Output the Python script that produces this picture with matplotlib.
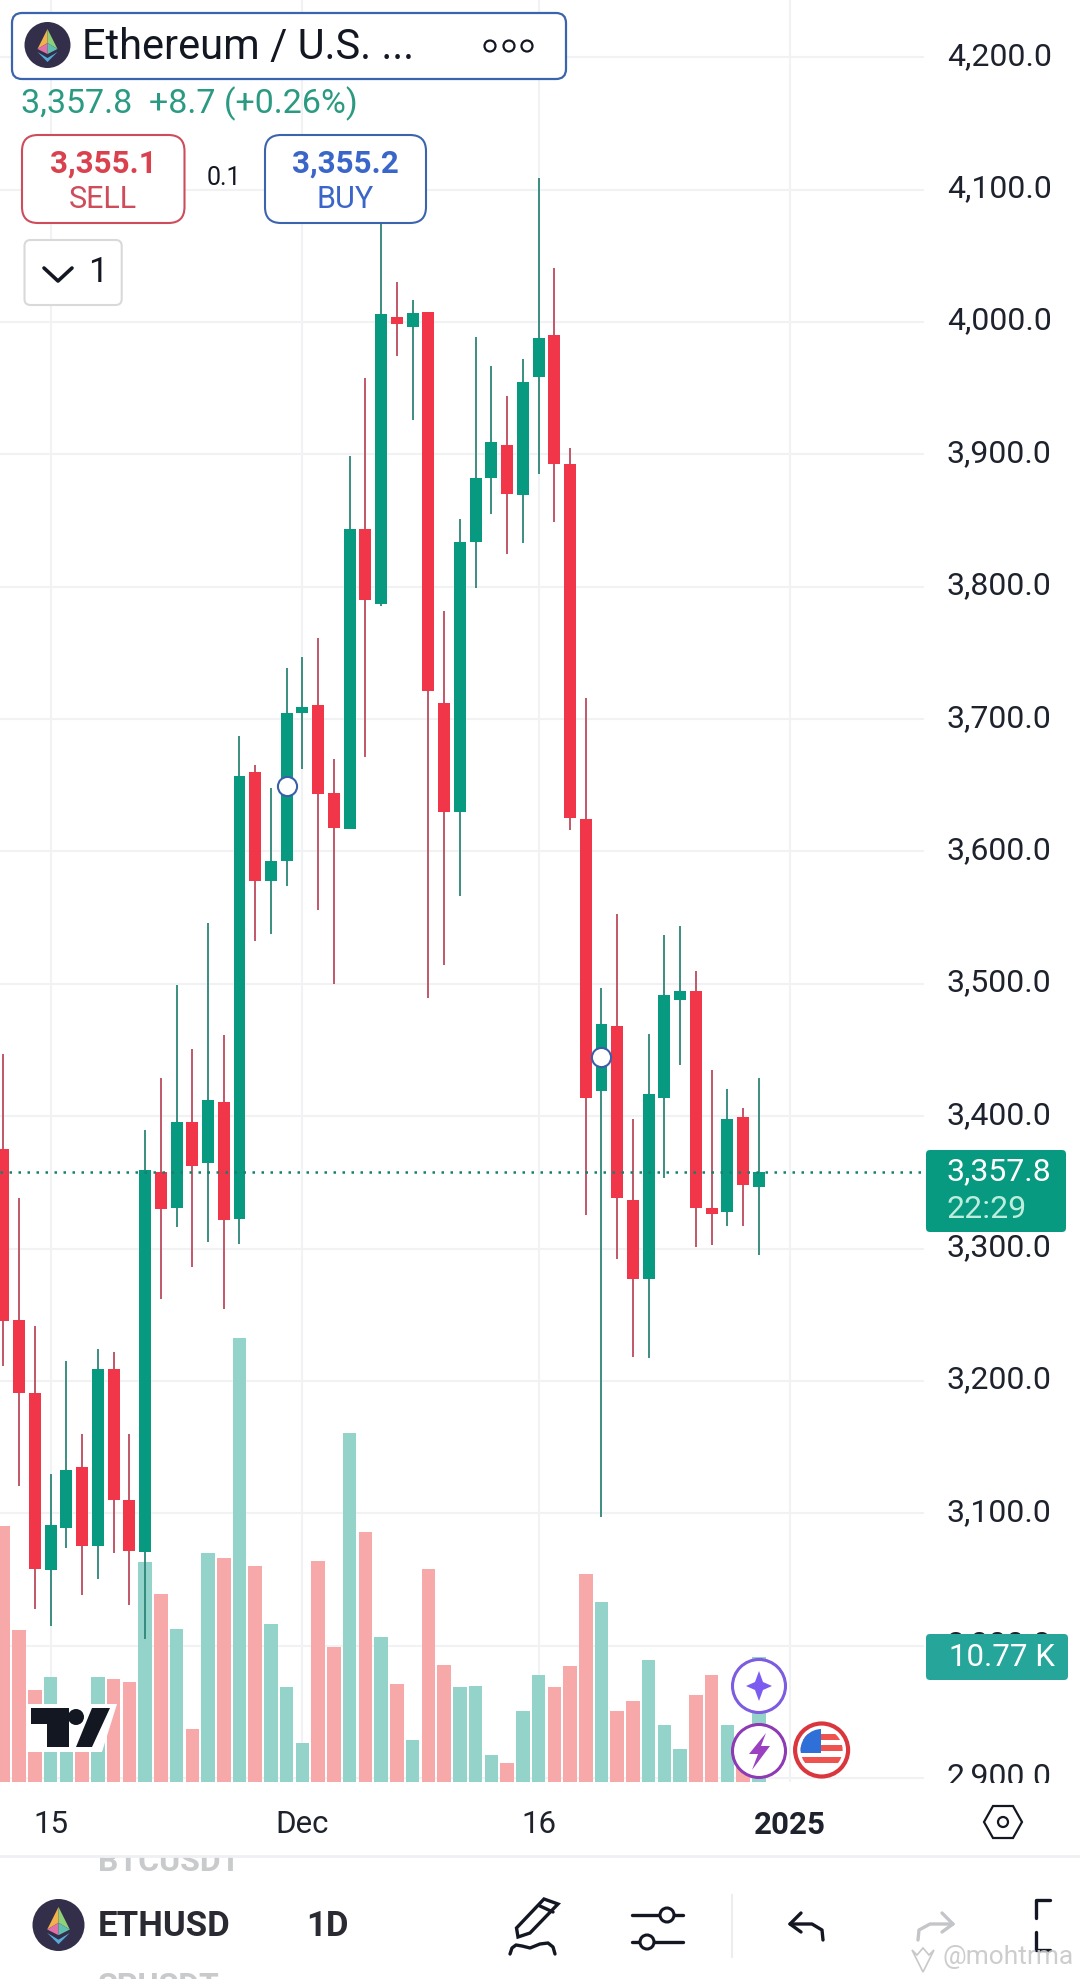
import matplotlib
matplotlib.use("Agg")
import matplotlib.pyplot as plt
from matplotlib.patches import FancyBboxPatch, Circle, Polygon, Rectangle
from matplotlib.transforms import Bbox, ScaledTranslation

plt.rcParams['font.family'] = ['Roboto', 'DejaVu Sans']

# ---------- data ----------
opens = [3375,3246,3190.6,3057,3089,3135,3075,3209,3110,3070.6,3358,3330.5,3396,3365,3411,3322.7,3660,3577.6,3593,3705,
         3711,3644,3617,3843.6,3787,4004,3996.6,4007.4,3712.5,3630,3833.5,3882,3907,3869,3958.4,3990,3893,3624.6,3419,3468,
         3337,3277,3414,3488,3494.5,3330.6,3328,3399.4,3346.8]
closes = [3245.5,3190.6,3058,3091,3133,3075,3209,3110,3071.5,3359.4,3330,3396,3362.6,3412,3321.6,3657,3577.6,3593,3705,3709,
          3643.5,3617.6,3843.6,3790,4006,3998.5,4007,3721,3630,3834,3882,3909,3870,3955,3988,3893,3625,3414,3470,3338,
          3277,3416.6,3491.5,3494.5,3331,3326,3397.7,3348.4,3357.8]
highs = [3447,3338,3241.5,3130,3215,3160,3224,3222,3160,3389.5,3429,3499,3450.8,3546,3461,3687,3665,3648,3739,3747,
         3761,3669.7,3899,3958,4095,4030.5,4017,4007.4,3782,3851,3989,3967,3944,3972,4109,4041,3905,3716,3497,3553,
         3398,3462,3537,3544,3510,3435,3420.6,3406,3428.7]
lows = [3211,3121,3028,3015,3073.5,3038,3050.7,3070,3031,3005,3262,3316,3286,3305,3254,3303.6,3532,3538,3574,3662,
        3556,3500,3617,3671.6,3785.7,3974,3926,3489.6,3514,3566,3799,3855,3825,3833,3885,3849,3616,3325,3097,3292,
        3218,3217,3353.5,3438.5,3301.5,3303,3317,3317,3295]
volumes_k = [22.0,13.1,7.9,9.0,5.9,6.2,9.0,8.9,8.6,18.9,16.2,13.2,4.6,19.7,19.3,38.2,18.6,13.6,8.2,3.4,
             19.0,11.6,30.0,21.5,12.5,8.4,3.6,18.3,10.1,8.2,8.3,2.3,1.6,6.1,9.2,8.2,10.0,17.9,15.5,6.1,
             7.0,10.5,4.9,2.8,7.5,9.2,4.9,4.0,10.77]
x_tick_pos = [3, 19, 34, 50]
x_tick_labels = ['15', 'Dec', '16', '2025']
price_ticks = [2900,3000,3100,3200,3300,3400,3500,3600,3700,3800,3900,4000,4100,4200]
marker_idx = [18, 38]
marker_price = [3649.6, 3445]
last_price = 3357.8

# ---------- layout ----------
W, H = 1080, 1979
PANE_R, PANE_B = 924, 1782
XLIM = (-0.216, 58.49)
YLIM = (2897, 4243.3)
VLIM = (0, 153.4)
UP, DOWN = '#089A80', '#F2364A'
UPW, DOWNW = '#2C8577', '#BC4A5C'
UPV, DOWNV = '#94D3CA', '#F6A9A8'

fig = plt.figure(figsize=(W/100, H/100), dpi=100, facecolor='white')
rect = [0, 1-PANE_B/H, PANE_R/W, PANE_B/H]

bg = fig.add_axes(rect, zorder=0)
bg.set_xlim(*XLIM); bg.set_ylim(*YLIM)
bg.set_xticks(x_tick_pos); bg.set_yticks(price_ticks)
bg.grid(True, color='#F1F2F4', lw=1.5)
bg.tick_params(length=0, labelleft=False, labelbottom=False)
for s in bg.spines.values(): s.set_visible(False)

av = fig.add_axes(rect, zorder=1)
av.patch.set_visible(False)
av.set_xlim(*XLIM); av.set_ylim(*VLIM); av.axis('off')

ax = fig.add_axes(rect, zorder=2)
ax.patch.set_visible(False)
ax.set_xlim(*XLIM); ax.set_ylim(*YLIM)
for s in ax.spines.values(): s.set_visible(False)

xs = list(range(len(opens)))
for i in xs:
    up = closes[i] >= opens[i]
    av.bar(i, volumes_k[i], width=0.86, color=UPV if up else DOWNV, lw=0)
    ax.vlines(i, lows[i], highs[i], color=UPW if up else DOWNW, lw=1.3, zorder=2)
    lo, hi = sorted((opens[i], closes[i]))
    ax.bar(i, hi-lo, bottom=lo, width=0.76, color=UP if up else DOWN, lw=0, zorder=3)

ax.axhline(last_price, color='#14806E', lw=1.8, ls=(0, (1, 2.6)), zorder=4)
ax.scatter(marker_idx, marker_price, s=190, facecolor='white', edgecolor='#3A5FA8', lw=1.5, zorder=5)

ax.set_xticks(x_tick_pos, x_tick_labels)
ax.yaxis.tick_right()
ax.set_yticks(price_ticks, [f'{p:,.1f}' for p in price_ticks])
ax.tick_params(axis='x', length=0, pad=20, labelsize=22.5, labelcolor='#1E222D')
ax.tick_params(axis='y', length=0, pad=16.5, labelsize=23, labelcolor='#1E222D')
ax.get_xticklabels()[3].set_fontweight('bold')
clip = Bbox([[0, H-1783], [W, H]])
lift = ScaledTranslation(0, 0.04, fig.dpi_scale_trans)
for lb in ax.get_yticklabels():
    lb.set_transform(lb.get_transform() + lift)
    lb.set_clip_on(True)
    lb.set_clip_box(clip)

# ---------- interface layer, in picture pixels ----------
ui = fig.add_axes([0, 0, 1, 1], zorder=3)
ui.set_xlim(0, W); ui.set_ylim(H, 0); ui.axis('off'); ui.patch.set_visible(False)

def box(x0, y0, x1, y1, r=8, fc='white', ec='none', lw=1.5, z=5):
    ui.add_patch(FancyBboxPatch((x0+r, y0+r), x1-x0-2*r, y1-y0-2*r, boxstyle=f'round,pad={r}',
                                fc=fc, ec=ec, lw=lw, zorder=z))

def txt(x, y, s, size, color='#131722', ha='left', weight='normal', z=6, **kw):
    return ui.text(x, y, s, fontsize=size, color=color, ha=ha, va='center', fontweight=weight, zorder=z, **kw)

def eth(cx, cy, r, z=6):
    ui.add_patch(Circle((cx, cy), r, fc='#332F4A', ec='none', zorder=z))
    k = r/23
    P = lambda pts: [(cx+a*k, cy+b*k) for a, b in pts]
    ui.add_patch(Polygon(P([(0,-16),(-10,4),(0,-2)]), fc='#F2B24B', ec='none', zorder=z+1))
    ui.add_patch(Polygon(P([(0,-16),(10,4),(0,-2)]), fc='#8FD07A', ec='none', zorder=z+1))
    ui.add_patch(Polygon(P([(0,-2),(-10,4),(0,9)]), fc='#E070A8', ec='none', zorder=z+1))
    ui.add_patch(Polygon(P([(0,-2),(10,4),(0,9)]), fc='#60C0B0', ec='none', zorder=z+1))
    ui.add_patch(Polygon(P([(-10,7),(0,13),(10,7),(0,17)]), fc='#55A8D8', ec='none', zorder=z+1))

# header
box(12, 13, 566, 79, r=10, ec='#3B64AE', lw=1.6)
eth(47.5, 45, 23)
txt(82, 47, 'Ethereum / U.S. ...', 30)
for dx in (490, 509, 527):
    ui.add_patch(Circle((dx, 46), 5.5, fc='white', ec='#131722', lw=1.6, zorder=6))
txt(21, 104, '3,357.8  +8.7 (+0.26%)', 24.5, color='#2A9A82')

box(22, 135, 184.5, 223, r=16, ec='#CE4C5C', lw=1.5)
txt(103, 164, '3,355.1', 22.6, color='#D9414F', ha='center', weight='bold')
txt(103, 200, 'SELL', 22, color='#CE4C5C', ha='center')
txt(223.5, 178, '0.1', 18, ha='center')
box(265, 135, 426, 223, r=16, ec='#3B64AE', lw=1.5)
txt(345.5, 164, '3,355.2', 22.6, color='#3A66C9', ha='center', weight='bold')
txt(345.5, 200, 'BUY', 22, color='#3A66C9', ha='center')

box(24.5, 240, 121.7, 305, r=6, ec='#D9D9D9', lw=1.5)
ui.plot([44, 58, 72], [268, 281, 268], color='#131722', lw=2.6, zorder=6, solid_capstyle='round')
txt(98, 272, '1', 25, ha='center')

# last price and volume badges
box(926, 1150, 1066, 1232, r=4, fc='#089A80')
txt(947, 1172, '3,357.8', 23, color='white')
txt(947, 1210, '22:29', 23, color='#BDEEDD')
box(926, 1634, 1068, 1680, r=4, fc='#26A69A')
txt(949, 1657, '10.77 K', 22.5, color='white')

# TradingView mark
ui.add_patch(Polygon([(26, 1704), (117, 1704), (102, 1752), (26, 1752)], fc='white', ec='none', zorder=5))
ui.add_patch(Polygon([(31, 1708), (69, 1708), (69, 1747), (47, 1747), (47, 1724), (31, 1724)], fc='#131722', ec='none', zorder=6))
ui.add_patch(Circle((76, 1717), 8, fc='#131722', ec='none', zorder=6))
ui.add_patch(Polygon([(92, 1708), (110, 1708), (92, 1747), (76, 1747)], fc='#131722', ec='none', zorder=6))

# round badges
ui.add_patch(Circle((759, 1686), 26.5, fc='white', ec='#7C5CE0', lw=2.2, zorder=6))
ui.add_patch(Polygon([(759, 1671), (763, 1682), (772, 1686), (763, 1690), (759, 1701), (755, 1690), (746, 1686), (755, 1682)],
                     fc='#7C5CF0', ec='none', zorder=7))
ui.add_patch(Circle((759, 1751), 26.5, fc='white', ec='#8E3AB5', lw=2.2, zorder=6))
ui.add_patch(Polygon([(766, 1733), (749, 1754), (758, 1754), (752, 1770), (770, 1746), (761, 1746)], fc='#9A40C0', ec='none', zorder=7))
ui.add_patch(Circle((821.6, 1750), 26.5, fc='white', ec='#D9363E', lw=3, zorder=6))
fc = Circle((821.6, 1750), 21, fc='white', ec='none', zorder=7)
ui.add_patch(fc)
for y0 in (1734, 1745, 1757):
    st = Rectangle((800, y0), 44, 6, fc='#EF5350', ec='none', zorder=8)
    ui.add_patch(st); st.set_clip_path(fc)
cant = Rectangle((800, 1729), 21, 24, fc='#2F6FD8', ec='none', zorder=9)
ui.add_patch(cant); cant.set_clip_path(fc)

# settings hexagon
ui.add_patch(Polygon([(984, 1822), (993, 1806), (1013, 1806), (1022, 1822), (1013, 1838), (993, 1838)],
                     fc='white', ec='#131722', lw=1.6, zorder=6))
ui.add_patch(Circle((1003, 1822), 5, fc='white', ec='#131722', lw=1.6, zorder=7))

# bottom bar
ghost1 = txt(98, 1862, 'BTCUSDT', 23, color='#C9CACC', weight='bold', z=4)
ghost1.set_clip_on(True); ghost1.set_clip_box(Bbox([[0, 0], [W, H-1857]]))
txt(98, 1986, 'SPUSDT', 23, color='#C9CACC', weight='bold', z=4)
ui.plot([0, W], [1856, 1856], color='#EEF0F3', lw=2, zorder=5)
eth(58.5, 1925, 26)
txt(98, 1927, 'ETHUSD', 25, color='#2A2A33', weight='bold')
txt(327, 1927, '1D', 25, color='#2A2A33', weight='bold', ha='center')

LK = dict(color='#131722', lw=2.4, zorder=6, solid_capstyle='round', solid_joinstyle='round')
# pencil
ui.add_patch(Polygon([(544, 1899), (558, 1904), (530, 1933), (518, 1937), (516.5, 1928)], closed=True,
                     fc='white', ec='#131722', lw=2.4, zorder=6))
ui.plot([540, 553], [1906, 1912], **LK)
ui.plot([510, 512, 516, 522, 530, 540, 548, 553, 555], [1954, 1948, 1945, 1946, 1948, 1944, 1943, 1947, 1954], **LK)
# sliders
ui.plot([632, 660], [1915, 1915], **LK); ui.plot([674, 683], [1915, 1915], **LK)
ui.plot([632, 640], [1942, 1942], **LK); ui.plot([654, 683], [1942, 1942], **LK)
ui.add_patch(Circle((667, 1915), 7, fc='white', ec='#131722', lw=2.2, zorder=6))
ui.add_patch(Circle((647, 1942), 7, fc='white', ec='#131722', lw=2.2, zorder=6))
ui.plot([732, 732], [1895, 1957], color='#ECEDEF', lw=1.5, zorder=5)
# undo / redo
ui.plot([801, 790, 801], [1913, 1924, 1932], **LK)
ui.plot([790, 812, 822, 823], [1924, 1924, 1930, 1940], **LK)
GK = dict(LK, color='#C4C5C8')
ui.plot([942, 953, 942], [1913, 1924, 1932], **GK)
ui.plot([953, 930, 919, 918], [1924, 1924, 1930, 1940], **GK)
# fullscreen corner
ui.plot([1050, 1036, 1036], [1900, 1900, 1918], **LK)
ui.plot([1036, 1036, 1050], [1932, 1950, 1950], **LK)
# watermark
ui.text(943, 1957, '@mohtrma', fontsize=19, color='#C8C8C8', va='center', alpha=.9, zorder=7)
ui.add_patch(Polygon([(912, 1950), (917, 1955), (923, 1948), (929, 1955), (934, 1950), (923, 1972)], fc='none', ec='#C8C8C8', lw=1.2, zorder=7))

fig.savefig('out.png', dpi=100, facecolor='white')
